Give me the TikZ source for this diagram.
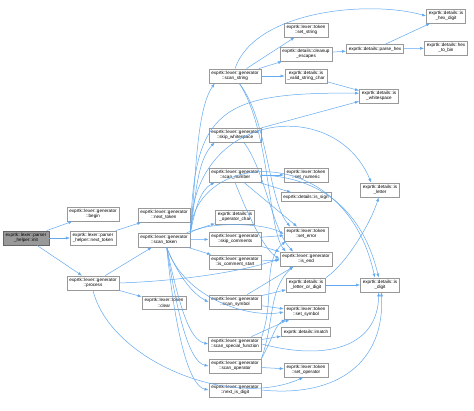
\documentclass[tikz,border=0pt]{standalone}
\usepackage{fontspec}
\setmainfont{Liberation Sans}
\usepackage{tikz}
\usetikzlibrary{arrows.meta}
\definecolor{EdgeBlue}{HTML}{63A9F0}
\definecolor{BoxGrey}{HTML}{999999}
\definecolor{RootLine}{HTML}{666666}
\tikzset{
  fnbox/.style={draw=BoxGrey, fill=white, line width=0.6pt, align=center,
    inner xsep=2.5pt, inner ysep=2.2pt, font=\fontsize{4.6}{5.5}\selectfont},
  rootbox/.style={fnbox, draw=RootLine, fill=BoxGrey},
  callarrow/.style={draw=EdgeBlue, line width=0.5pt,
    -{Latex[length=4pt,width=3pt]}},
}

\begin{document}
\begin{tikzpicture}[x=1pt,y=-1pt]
  \useasboundingbox[fill=white] (0,0) rectangle (474,410);

  % ----- CALLERS (left part) -----
  \node[rootbox] (init)    at (26,238)  {exprtk::lexer::parser\\\_helper::init};
  \node[fnbox]   (begin)   at (93,214)  {exprtk::lexer::generator\\::begin};
  \node[fnbox]   (pnext)   at (93,238)  {exprtk::lexer::parser\\\_helper::next\_token};
  \node[fnbox]   (process) at (93,283)  {exprtk::lexer::generator\\::process};
  \node[fnbox]   (gnext)   at (164,215) {exprtk::lexer::generator\\::next\_token};
  \node[fnbox]   (scantok) at (164,240) {exprtk::lexer::generator\\::scan\_token};
  \node[fnbox]   (clear)   at (164,303) {exprtk::lexer::token\\::clear};

  % ----- generator members -----
  \node[fnbox] (scanstr)     at (235,76)  {exprtk::lexer::generator\\::scan\_string};
  \node[fnbox] (skipws)      at (235,135) {exprtk::lexer::generator\\::skip\_whitespace};
  \node[fnbox] (scannum)     at (235,175) {exprtk::lexer::generator\\::scan\_number};
  \node[fnbox] (isopchar)    at (235,217) {exprtk::details::is\\\_operator\_char};
  \node[fnbox] (skipcmt)     at (235,239) {exprtk::lexer::generator\\::skip\_comments};
  \node[fnbox] (iscmtstart)  at (235,262) {exprtk::lexer::generator\\::is\_comment\_start};
  \node[fnbox] (scansym)     at (235,302) {exprtk::lexer::generator\\::scan\_symbol};
  \node[fnbox] (scanspecial) at (235,344) {exprtk::lexer::generator\\::scan\_special\_function};
  \node[fnbox] (scanop)      at (235,366) {exprtk::lexer::generator\\::scan\_operator};
  \node[fnbox] (nextdigit)   at (235,390) {exprtk::lexer::generator\\::next\_is\_digit};

  % ----- leaves -----
  \node[fnbox] (setstr)     at (306,30)  {exprtk::lexer::token\\::set\_string};
  \node[fnbox] (cleanup)    at (306,54)  {exprtk::details::cleanup\\\_escapes};
  \node[fnbox] (isvalidstr) at (306,76)  {exprtk::details::is\\\_valid\_string\_char};
  \node[fnbox] (setnum)     at (306,175) {exprtk::lexer::token\\::set\_numeric};
  \node[fnbox] (issign)     at (306,197) {exprtk::details::is\_sign};
  \node[fnbox] (seterr)     at (306,234) {exprtk::lexer::token\\::set\_error};
  \node[fnbox] (isend)      at (306,259) {exprtk::lexer::generator\\::is\_end};
  \node[fnbox] (isletdig)   at (306,285) {exprtk::details::is\\\_letter\_or\_digit};
  \node[fnbox] (setsym)     at (306,312) {exprtk::lexer::token\\::set\_symbol};
  \node[fnbox] (imatch)     at (306,332) {exprtk::details::imatch};
  \node[fnbox] (setop)      at (306,370) {exprtk::lexer::token\\::set\_operator};

  \node[fnbox] (parsehex) at (375,49)  {exprtk::details::parse\_hex};
  \node[fnbox] (isws)     at (379,96)  {exprtk::details::is\\\_whitespace};
  \node[fnbox] (isletter) at (380,190) {exprtk::details::is\\\_letter};
  \node[fnbox] (isdigit)  at (380,285) {exprtk::details::is\\\_digit};
  \node[fnbox] (ishex)    at (446,16)  {exprtk::details::is\\\_hex\_digit};
  \node[fnbox] (hextobin) at (446,48)  {exprtk::details::hex\\\_to\_bin};

  % ----- calls -----
  \draw[callarrow] (init) -- (begin);
  \draw[callarrow] (init) -- (pnext);
  \draw[callarrow] (init) -- (process);
  \draw[callarrow] (pnext) -- (gnext);
  \draw[callarrow] (process) -- (scantok);
  \draw[callarrow] (process) -- (clear);
  \draw[callarrow] (process.east) .. controls (180,281) and (240,272) .. (isend.west);
  \draw[callarrow] (process.south) .. controls (110,360) and (230,410) .. (setop.250);

  % scan_token
  \draw[callarrow] (scantok.north east) .. controls (196,180) and (196,110) .. (scanstr.200);
  \draw[callarrow] (scantok.north east) .. controls (196,190) and (198,160) .. (skipws.200);
  \draw[callarrow] (scantok.north east) .. controls (195,210) and (200,190) .. (scannum.200);
  \draw[callarrow] (scantok) -- (isopchar);
  \draw[callarrow] (scantok) -- (skipcmt);
  \draw[callarrow] (scantok) -- (iscmtstart);
  \draw[callarrow] (scantok.-70) .. controls (180,280) and (195,295) .. (scansym.west);
  \draw[callarrow] (scantok.-70) .. controls (180,310) and (190,340) .. (scanspecial.west);
  \draw[callarrow] (scantok.-70) .. controls (178,320) and (190,362) .. (scanop.west);
  \draw[callarrow] (scantok.-70) .. controls (176,340) and (190,386) .. (nextdigit.west);
  \draw[callarrow] (scantok.north east) .. controls (194,110) and (220,92) .. (isws.172);
  \draw[callarrow] (scantok.north east) .. controls (192,110) and (335,95) .. (isletter.140);
  \draw[callarrow] (scantok.north east) .. controls (194,150) and (345,140) .. (isdigit.125);
  \draw[callarrow] (scantok.north east) .. controls (205,222) and (262,222) .. (seterr.west);
  \draw[callarrow] (scantok.-70) .. controls (185,300) and (250,318) .. (setsym.west);

  % scan_string
  \draw[callarrow] (scanstr) -- (setstr);
  \draw[callarrow] (scanstr) -- (cleanup);
  \draw[callarrow] (scanstr) -- (isvalidstr);
  \draw[callarrow] (scanstr.north) .. controls (255,10) and (370,0) .. (ishex.west);
  \draw[callarrow] (scanstr.-60) .. controls (268,120) and (268,200) .. (seterr.155);
  \draw[callarrow] (scanstr.-60) .. controls (270,130) and (268,230) .. (isend.160);
  \draw[callarrow] (cleanup) -- (parsehex);
  \draw[callarrow] (parsehex) -- (ishex);
  \draw[callarrow] (parsehex) -- (hextobin);
  \draw[callarrow] (isvalidstr) -- (isws);

  % skip_whitespace, scan_number
  \draw[callarrow] (skipws) -- (isws);
  \draw[callarrow] (skipws.-40) .. controls (265,170) and (272,230) .. (isend.150);
  \draw[callarrow] (scannum) -- (setnum);
  \draw[callarrow] (scannum) -- (issign);
  \draw[callarrow] (scannum) -- (seterr);
  \draw[callarrow] (scannum.south) .. controls (250,220) and (265,250) .. (isend.west);
  \draw[callarrow] (scannum.east) .. controls (330,178) and (365,220) .. (isdigit.100);

  % comments, symbols
  \draw[callarrow] (skipcmt) -- (seterr);
  \draw[callarrow] (skipcmt) -- (isend);
  \draw[callarrow] (iscmtstart) -- (isend);
  \draw[callarrow] (scansym) -- (isletdig);
  \draw[callarrow] (scansym) -- (setsym);
  \draw[callarrow] (scansym) -- (isend);
  \draw[callarrow] (isletdig.north east) .. controls (345,265) and (370,225) .. (isletter.-100);
  \draw[callarrow] (isletdig) -- (isdigit);

  % special functions, operators
  \draw[callarrow] (scanspecial) -- (imatch);
  \draw[callarrow] (scanspecial) -- (setsym);
  \draw[callarrow] (scanspecial.north east) .. controls (275,300) and (262,260) .. (seterr.200);
  \draw[callarrow] (scanspecial.east) .. controls (330,362) and (378,345) .. (isdigit.-100);
  \draw[callarrow] (scanop.north east) .. controls (275,320) and (268,290) .. (isend.210);
  \draw[callarrow] (scanop) -- (setop);
  \draw[callarrow] (scanop.north east) .. controls (272,340) and (275,325) .. (setsym.200);
  \draw[callarrow] (nextdigit.east) .. controls (340,398) and (385,360) .. (isdigit.-80);
\end{tikzpicture}
\end{document}
